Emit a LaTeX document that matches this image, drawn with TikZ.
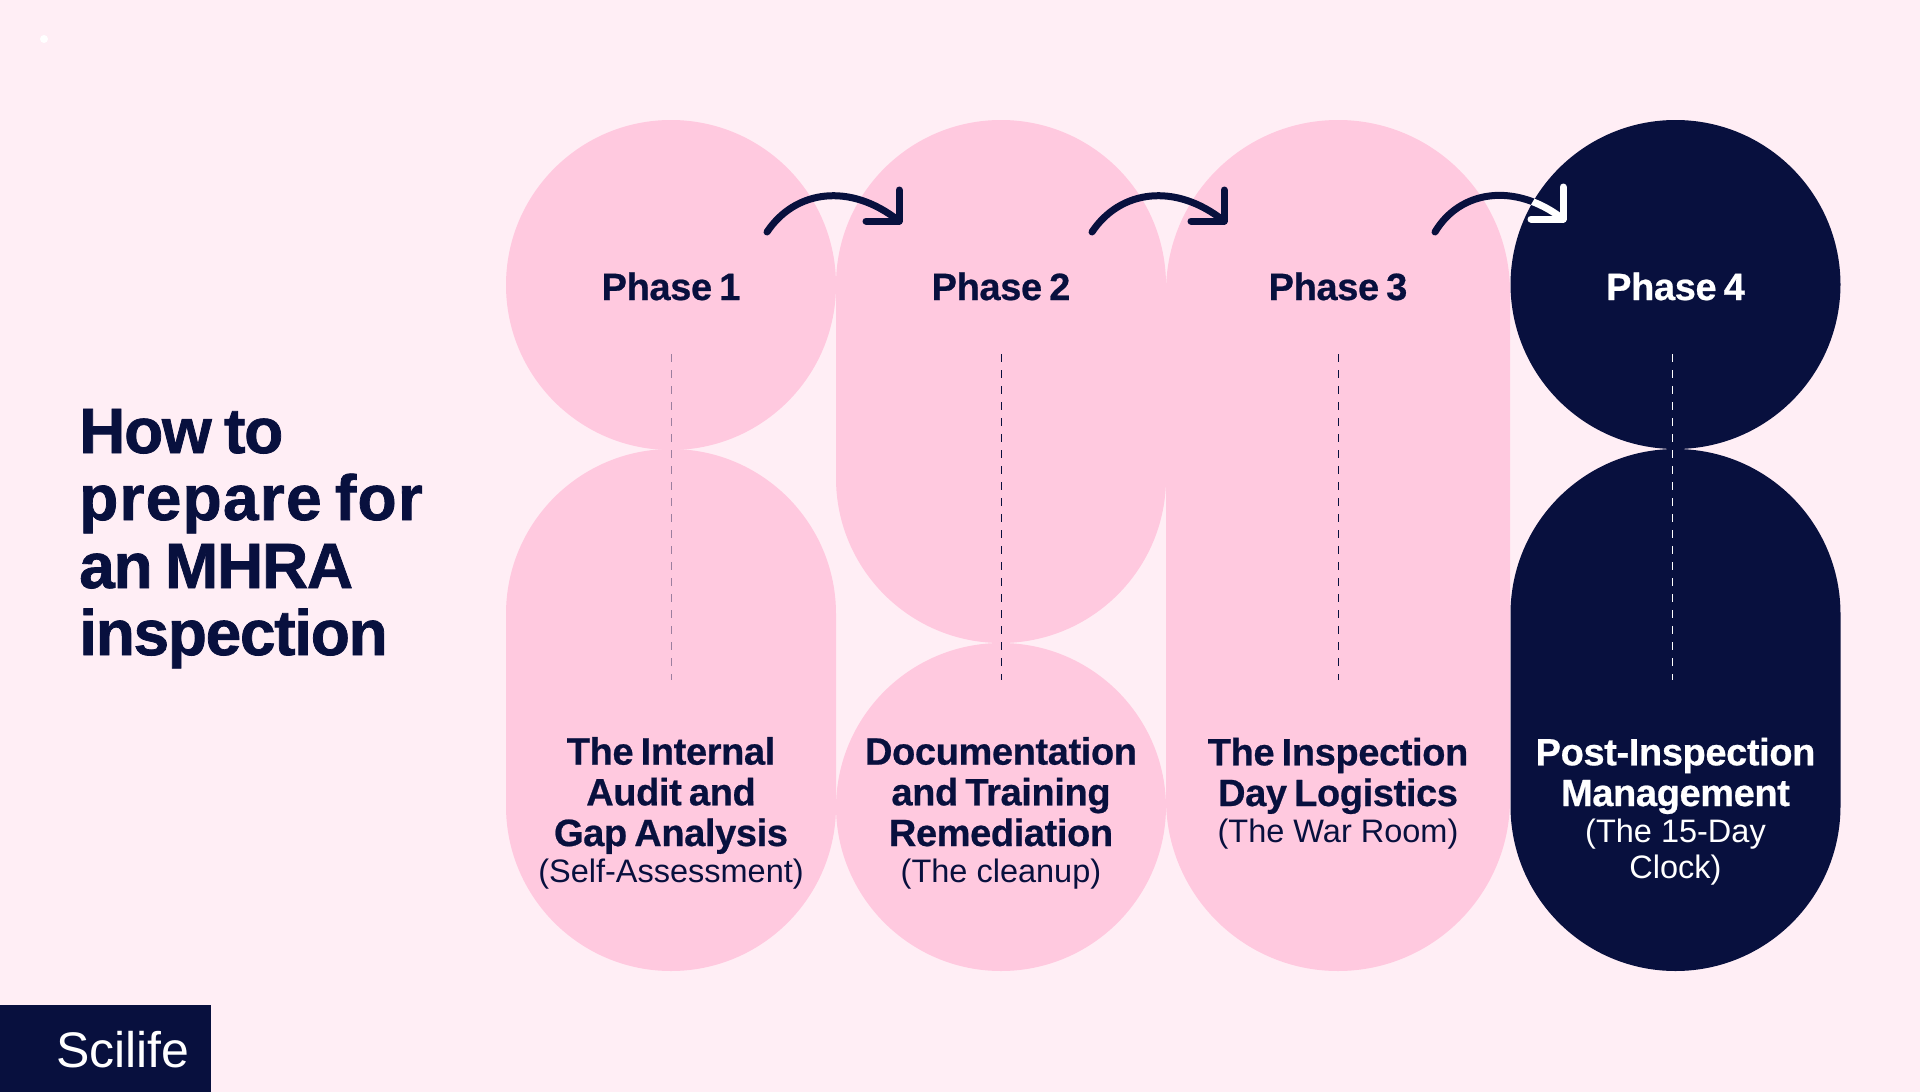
\documentclass[tikz,border=0pt]{standalone}
\usepackage{fontspec}
\setmainfont{Liberation Sans}
\newfontfamily\boldf[LetterSpace=-1,WordSpace=0.7,FakeBold=0.6]{Liberation Sans Bold}
\newfontfamily\titlef[LetterSpace=-2,WordSpace=0.75,FakeBold=1.2]{Liberation Sans Bold}
\newfontfamily\titlewf[LetterSpace=2,WordSpace=0.7,FakeBold=1.2]{Liberation Sans Bold}
\definecolor{bgp}{HTML}{FFEEF5}
\definecolor{pk}{HTML}{FFC9DF}
\definecolor{nv}{HTML}{08103E}
\tikzset{
 blob/.style={inner sep=0pt,outer sep=0pt,rounded corners=165pt,minimum width=330pt},
 pinkblob/.style={blob,fill=pk},
 navyblob/.style={blob,fill=nv},
 phase/.style={anchor=base,inner sep=0pt,font=\boldf\fontsize{38}{41}\selectfont},
 head/.style={anchor=base,inner sep=0pt,align=center,font=\boldf\fontsize{38}{40.7}\selectfont},
 sub/.style={anchor=base,inner sep=0pt,align=center,font=\fontsize{32.5}{36}\selectfont},
 titleline/.style={anchor=base west,inner sep=0pt,font=\titlef\fontsize{64}{67}\selectfont},
 titlewide/.style={anchor=base west,inner sep=0pt,font=\titlewf\fontsize{64}{67}\selectfont},
 dashline/.style={line width=1pt,dash pattern=on 8pt off 8pt},
 curve/.style={line width=7pt,line cap=round,line join=round},
}
\begin{document}
\begin{tikzpicture}[x=1pt,y=-1pt,every node/.style={text=nv}]
\useasboundingbox (0,0) rectangle (1920,1092);
\fill[bgp] (0,0) rectangle (1920,1092);
\fill[white] (44,39) circle (4);
% shapes
\node[pinkblob,minimum height=330pt] (a1) at (671,285) {};
\node[pinkblob,minimum height=522pt] (a2) at (671,710) {};
\node[pinkblob,minimum height=523pt] (b1) at (1001,381.5) {};
\node[pinkblob,minimum height=328pt] (b2) at (1001,807) {};
\node[pinkblob,minimum width=344pt,rounded corners=172pt,minimum height=851pt] (c1) at (1338,545.5) {};
\node[navyblob,minimum height=329pt] (d1) at (1675.5,284.5) {};
\node[navyblob,minimum height=522pt] (d2) at (1675.5,710) {};
% logo
\node[fill=nv,inner sep=0pt,minimum width=211pt,minimum height=87pt,anchor=south west] (logo) at (0,1092) {};
\node[anchor=base west,inner sep=0pt,text=white,font=\fontsize{50}{50}\selectfont] (brand) at (56,1067) {Scilife};
% title
\node[titleline] (t1) at (79,453) {How to};
\node[titlewide] (t2) at (79,520) {prepare for};
\node[titleline] (t3) at (79,588) {an MHRA};
\node[titleline] (t4) at (79,655) {inspection};
% phases
\node[phase] (p1) at (671,300) {Phase 1};
\node[phase] (p2) at (1001,300) {Phase 2};
\node[phase] (p3) at (1338,300) {Phase 3};
\node[phase,text=white] (p4) at (1675.5,300) {Phase 4};
% headings
\node[head] (h1) at (671,846) {The Internal\\Audit and\\Gap Analysis};
\node[sub] (s1) at (671,882) {(Self-Assessment)};
\node[head] (h2) at (1001,846) {Documentation\\and Training\\Remediation};
\node[sub] (s2) at (1001,882) {(The cleanup)};
\node[head] (h3) at (1338,806) {The Inspection\\Day Logistics};
\node[sub] (s3) at (1338,842) {(The War Room)};
\node[head,text=white] (h4) at (1675.5,806) {Post-Inspection\\Management};
\node[sub,text=white] (s4) at (1675.5,878) {(The 15-Day\\Clock)};
% dashes
\coordinate (da1) at (671,354); \coordinate (da2) at (671,680);
\coordinate (db1) at (1001,354); \coordinate (db2) at (1001,680);
\coordinate (dc1) at (1338,354); \coordinate (dc2) at (1338,680);
\coordinate (dd1) at (1672,354); \coordinate (dd2) at (1672,680);
\draw[dashline,draw=nv!40!pk] (da1) -- (da2);
\draw[dashline,draw=nv] (db1) -- (db2);
\draw[dashline,draw=nv] (dc1) -- (dc2);
\draw[dashline,draw=white] (dd1) -- (dd2);
% arrows
\coordinate (e1s) at (767,232); \coordinate (e1e) at (899,221);
\coordinate (e1a) at (899,190); \coordinate (e1b) at (866,221);
\draw[curve,draw=nv] (e1s) .. controls (795,190) and (850,182) .. (e1e);
\draw[curve,draw=nv] (e1a) -- (e1e) -- (e1b);
\coordinate (e2s) at (1092,232); \coordinate (e2e) at (1224,221);
\coordinate (e2a) at (1224,190); \coordinate (e2b) at (1191,221);
\draw[curve,draw=nv] (e2s) .. controls (1120,190) and (1175,182) .. (e2e);
\draw[curve,draw=nv] (e2a) -- (e2e) -- (e2b);
\coordinate (e3s) at (1435,232); \coordinate (e3e) at (1563,219);
\coordinate (e3a) at (1563,187); \coordinate (e3b) at (1531,219);
\draw[curve,draw=nv] (e3s) .. controls (1460,190) and (1515,182) .. (e3e);
\begin{scope}
\clip (1675.5,284.5) circle (165);
\draw[curve,draw=white] (e3s) .. controls (1460,190) and (1515,182) .. (e3e);
\draw[curve,draw=white] (e3a) -- (e3e) -- (e3b);
\end{scope}
\end{tikzpicture}
\end{document}
